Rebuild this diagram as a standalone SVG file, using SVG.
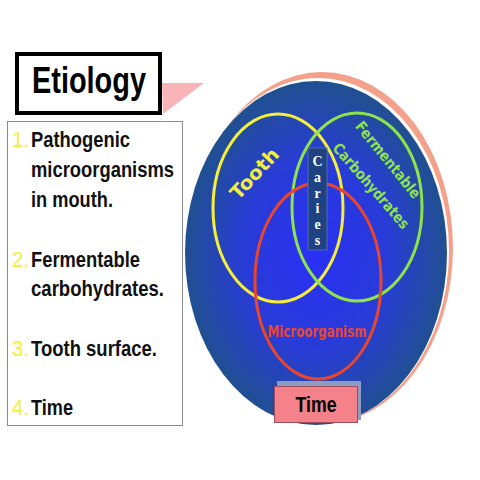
<svg xmlns="http://www.w3.org/2000/svg" width="480" height="480" viewBox="0 0 480 480">
<defs>
<radialGradient id="blueGrad" cx="316" cy="255" r="175" gradientUnits="userSpaceOnUse" gradientTransform="translate(316 255) scale(0.76 1) translate(-316 -255)">
<stop offset="0" stop-color="#2a2ff5"/>
<stop offset="0.55" stop-color="#283cd6"/>
<stop offset="1" stop-color="#20508e"/>
</radialGradient>
<style>
.item{font-family:"Liberation Sans Narrow","Liberation Sans",Arial,sans-serif;font-weight:bold;font-size:22px;fill:#111}
.num{font-family:"Liberation Sans Narrow","Liberation Sans",Arial,sans-serif;font-size:22px;fill:#f4ef3c}
.ring{fill:none;stroke-width:3}
.label{font-family:"DejaVu Sans","Liberation Sans",sans-serif;font-weight:bold}
.caries{font-family:"Liberation Serif","Times New Roman",serif;font-weight:bold;font-size:14px;fill:#ffffff;text-anchor:middle}
</style>
</defs>
<rect width="480" height="480" fill="#ffffff"/>

<g id="pointer">
<polygon points="162,83 204,83 163,114" fill="#f9b4b9"/>
</g>

<g id="etiology">
<rect x="17" y="54" width="143" height="59" fill="#ffffff" stroke="#000000" stroke-width="4"/>
<text x="89" y="93" text-anchor="middle" font-family="'Liberation Sans Narrow','Liberation Sans',Arial,sans-serif" font-weight="bold" font-size="36" textLength="114" lengthAdjust="spacingAndGlyphs" fill="#000">Etiology</text>
</g>

<g id="list">
<rect x="7.5" y="121.5" width="175" height="304" fill="#ffffff" stroke="#8a8a8a" stroke-width="1"/>
<text class="num" x="12" y="147" textLength="17" lengthAdjust="spacingAndGlyphs">1.</text>
<text class="item" x="31" y="147" textLength="99" lengthAdjust="spacingAndGlyphs">Pathogenic</text>
<text class="item" x="31" y="177" textLength="143" lengthAdjust="spacingAndGlyphs">microorganisms</text>
<text class="item" x="31" y="207" textLength="82" lengthAdjust="spacingAndGlyphs">in mouth.</text>
<text class="num" x="12" y="267" textLength="17" lengthAdjust="spacingAndGlyphs">2.</text>
<text class="item" x="31" y="267" textLength="109" lengthAdjust="spacingAndGlyphs">Fermentable</text>
<text class="item" x="31" y="296" textLength="133" lengthAdjust="spacingAndGlyphs">carbohydrates.</text>
<text class="num" x="12" y="356" textLength="17" lengthAdjust="spacingAndGlyphs">3.</text>
<text class="item" x="31" y="356" textLength="126" lengthAdjust="spacingAndGlyphs">Tooth surface.</text>
<text class="num" x="12" y="415" textLength="17" lengthAdjust="spacingAndGlyphs">4.</text>
<text class="item" x="31" y="415" textLength="42" lengthAdjust="spacingAndGlyphs">Time</text>
</g>

<g id="background-ellipse">
<ellipse cx="322" cy="248" rx="131" ry="176" fill="#f4a18c"/>
<ellipse cx="318" cy="251" rx="131" ry="173" fill="#ffffff"/>
<ellipse cx="316" cy="253" rx="131" ry="172" fill="url(#blueGrad)"/>
</g>

<g id="tooth">
<ellipse class="ring" cx="278" cy="208" rx="65" ry="94" stroke="#f2ee3a"/>
<text class="label" transform="translate(255 174) rotate(-47)" x="0" y="6" text-anchor="middle" font-size="19" fill="#f2ee3a" textLength="62" lengthAdjust="spacingAndGlyphs">Tooth</text>
</g>

<g id="carbohydrates">
<ellipse class="ring" cx="357" cy="207" rx="65" ry="94" stroke="#8ee24c"/>
<text class="label" transform="translate(388 160) rotate(51)" x="0" y="5" text-anchor="middle" font-size="15" font-weight="normal" fill="#8ee24c" textLength="94" lengthAdjust="spacingAndGlyphs">Fermentable</text>
<text class="label" transform="translate(371 186) rotate(49)" x="0" y="5" text-anchor="middle" font-size="15" font-weight="normal" fill="#8ee24c" textLength="108" lengthAdjust="spacingAndGlyphs">Carbohydrates</text>
</g>

<g id="microorganism">
<ellipse class="ring" cx="318" cy="281" rx="63" ry="98" stroke="#e8462e"/>
<text class="label" x="317" y="337" text-anchor="middle" font-size="16" font-weight="normal" fill="#e8462e" textLength="99" lengthAdjust="spacingAndGlyphs">Microorganism</text>
</g>

<g id="caries">
<rect x="308" y="148" width="19" height="102" fill="#1f4282" stroke="#5a78b8" stroke-width="0.8"/>
<text class="caries" x="317.5" y="166">C</text>
<text class="caries" x="317.5" y="181.8">a</text>
<text class="caries" x="317.5" y="197.6">r</text>
<text class="caries" x="317.5" y="213.4">i</text>
<text class="caries" x="317.5" y="229.2">e</text>
<text class="caries" x="317.5" y="245">s</text>
</g>

<g id="time">
<rect x="277" y="381" width="84" height="39" fill="#8e9cc2"/>
<rect x="274.5" y="386.5" width="83" height="36" fill="#f5818a" stroke="#9c4d5c" stroke-width="1"/>
<text x="316" y="412" text-anchor="middle" font-family="'Liberation Sans Narrow','Liberation Sans',Arial,sans-serif" font-weight="bold" font-size="22" fill="#000" textLength="41" lengthAdjust="spacingAndGlyphs">Time</text>
</g>

<g id="connectors"/>
</svg>
